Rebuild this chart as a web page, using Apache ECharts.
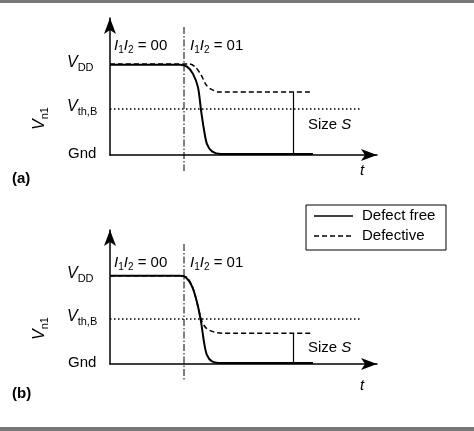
<!DOCTYPE html>
<html><head><meta charset="utf-8">
<script src="https://cdn.jsdelivr.net/npm/echarts@6/dist/echarts.min.js"></script>
<style>html,body{margin:0;background:#fff}#main{width:474px;height:431px}</style>
</head><body><div id="main"></div>
<script>
// time offset (arbitrary units) and node voltage (Gnd = 0, VDD = 1)
const solidA = [[0,1],[70,1],[77,0.98],[83,0.9],[88,0.75],[91,0.5],[94,0.28],[97,0.12],[102,0.04],[111,0.01],[203,0.01]];
const dashA  = [[0,1.01],[79,1.01],[85,0.98],[91,0.89],[96,0.78],[101,0.73],[109,0.7],[203,0.7]];
const solidB = [[0,1],[70,1],[76,0.98],[82,0.88],[87,0.7],[91,0.48],[94,0.25],[97,0.1],[102,0.03],[112,0.01],[203,0.01]];
const dashB  = [[0,1],[71,1],[77,0.98],[83,0.86],[88,0.65],[92,0.48],[96,0.41],[102,0.37],[112,0.35],[203,0.35]];
const vth = 0.51;
const sizeT = 183;

var myChart = echarts.init(document.getElementById('main'), null, {renderer: 'canvas'});
const F = 'Liberation Sans';

function axes(i) {
  return {
    x: {type: 'value', gridIndex: i, min: 0, max: 267, show: true,
        axisLine: {lineStyle: {color: '#000', width: 1.5}, symbol: ['none', 'arrow'], symbolSize: [9, 16]},
        axisTick: {show: false}, axisLabel: {show: false}, splitLine: {show: false}},
    y: {type: 'value', gridIndex: i, min: 0, max: 1.52,
        axisLine: {show: true, lineStyle: {color: '#000', width: 1.5}, symbol: ['none', 'arrow'], symbolSize: [9, 16]},
        axisTick: {show: false}, axisLabel: {show: false}, splitLine: {show: false}}
  };
}
let a0 = axes(0), a1 = axes(1);

function panel(i, solid, dash, lvl) {
  return [
    {type: 'line', xAxisIndex: i, yAxisIndex: i, data: solid, smooth: 0.3, symbol: 'none',
     lineStyle: {color: '#000', width: 2}, z: 3,
     markLine: {silent: true, symbol: 'none', label: {show: false}, data: [
       [{coord: [0, vth], lineStyle: {type: [1.5, 2.5], color: '#000', width: 1.5}}, {coord: [250, vth]}],
       [{coord: [sizeT, 0], lineStyle: {type: 'solid', color: '#000', width: 1.2}}, {coord: [sizeT, lvl]}]
     ]}},
    {type: 'line', xAxisIndex: i, yAxisIndex: i, data: dash, smooth: 0.3, symbol: 'none',
     lineStyle: {color: '#000', width: 1.5, type: [5, 3]}, z: 2}
  ];
}

function txt(x, y, t, extra) {
  return Object.assign({type: 'text', x: x, y: y, style: {text: t, fontFamily: F, fontSize: 15, fill: '#000', rich: rich}}, extra || {});
}
const rich = {
  i: {fontStyle: 'italic', fontFamily: F, fontSize: 15},
  s: {fontSize: 10, fontFamily: F, padding: [8, 0, 0, 0]},
  n: {fontSize: 15, fontFamily: F},
  v: {fontStyle: 'italic', fontFamily: F, fontSize: 16},
  sub: {fontSize: 11, fontFamily: F, padding: [9, 0, 0, 0]}
};

function labels(top, gnd, vdd, th, sizeY, tY, lab) {
  return [
    txt(114, top, '{i|I}{s|1}{i|I}{s|2}{n| = 00}'),
    txt(190, top, '{i|I}{s|1}{i|I}{s|2}{n| = 01}'),
    txt(67, vdd - 12, '{v|V}{sub|DD}'),
    txt(67, th - 12, '{v|V}{sub|th,B}'),
    txt(68, gnd - 9, '{n|Gnd}'),
    txt(308, sizeY, '{n|Size }{i|S}'),
    txt(360, tY, '{i|t}'),
    {type: 'text', x: 12, y: tY + 8, style: {text: '(' + lab + ')', fontFamily: F, fontSize: 15, fontWeight: 'bold', fill: '#000'}},
    {type: 'text', x: 30, y: (vdd + gnd) / 2 + 20, rotation: Math.PI / 2,
     style: {text: '{v|V}{sub|n1}', fontFamily: F, rich: rich, fill: '#000'}},
    {type: 'line', shape: {x1: 184, y1: top - 10, x2: 184, y2: gnd + 16},
     style: {stroke: '#000', lineWidth: 1, lineDash: [7, 2, 1.5, 2]}}
  ];
}

var option = {
  animation: false,
  grid: [
    {left: 110, right: 97, top: 18, bottom: 276},
    {left: 110, right: 97, top: 230, bottom: 67}
  ],
  xAxis: [a0.x, a1.x],
  yAxis: [a0.y, a1.y],
  series: panel(0, solidA, dashA, 0.7).concat(panel(1, solidB, dashB, 0.35)),
  graphic: [
    {type: 'rect', shape: {x: 0, y: 0, width: 474, height: 3}, style: {fill: '#777'}},
    {type: 'rect', shape: {x: 0, y: 427, width: 474, height: 4}, style: {fill: '#777'}},
    {type: 'rect', shape: {x: 306, y: 205, width: 140, height: 45}, style: {fill: '#fff', stroke: '#000', lineWidth: 1}},
    {type: 'line', shape: {x1: 314, y1: 216, x2: 353, y2: 216}, style: {stroke: '#000', lineWidth: 1.5}},
    {type: 'line', shape: {x1: 314, y1: 236, x2: 353, y2: 236}, style: {stroke: '#000', lineWidth: 1.5, lineDash: [5, 3]}},
    txt(362, 208, '{n|Defect free}'),
    txt(362, 228, '{n|Defective}')
  ].concat(labels(37, 155, 65, 109, 117, 163, 'a'))
   .concat(labels(254, 364, 276, 319, 340, 378, 'b'))
};

myChart.setOption(option);
</script></body></html>
